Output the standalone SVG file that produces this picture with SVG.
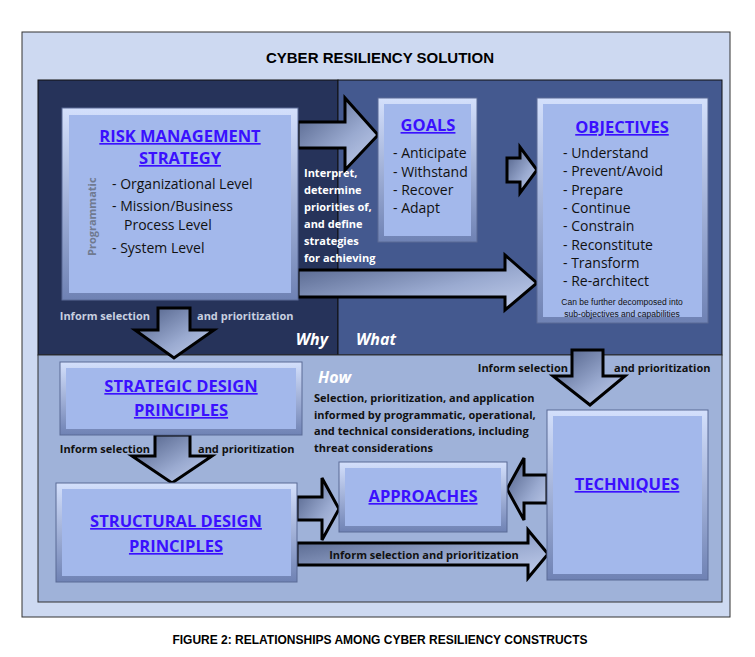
<svg xmlns="http://www.w3.org/2000/svg" width="755" height="657" viewBox="0 0 755 657">
<defs>
<linearGradient id="ag" x1="0" y1="0" x2="1" y2="1"><stop offset="0" stop-color="#4a5a82"/><stop offset="0.6" stop-color="#9aaad0"/><stop offset="1" stop-color="#c4d0ee"/></linearGradient>
<linearGradient id="bev" x1="0" y1="0" x2="0" y2="1"><stop offset="0" stop-color="#d4e0fc"/><stop offset="1" stop-color="#6f82b4"/></linearGradient>
</defs>
<style>
.box{fill:url(#bev);stroke:#5a6a96;stroke-width:1}
.inner{fill:#a3b8eb}
.arr{fill:url(#ag);stroke:#000;stroke-width:3;stroke-linejoin:miter}
.t{font-family:"Liberation Sans",Arial,sans-serif}
.h{font-family:"Open Sans","Liberation Sans",sans-serif;font-weight:bold;font-size:16.5px;fill:#3a10ff;text-decoration:underline;text-anchor:middle}
.li{font-family:"Open Sans","Liberation Sans",sans-serif;font-size:14px;fill:#111}
.lb{font-family:"Open Sans","Liberation Sans",sans-serif;font-weight:bold;font-size:11px}
.it{font-family:"Open Sans","Liberation Sans",sans-serif;font-weight:bold;font-style:italic;font-size:16px;fill:#fff}
</style>
<rect x="22" y="32" width="708" height="585" fill="#cdd9f1" stroke="#333" stroke-width="1"/>
<text x="380" y="63" text-anchor="middle" class="t" font-weight="bold" font-size="15">CYBER RESILIENCY SOLUTION</text>
<rect x="38" y="80" width="300" height="275" fill="#26335a" stroke="#111"/>
<rect x="338" y="80" width="384" height="275" fill="#44598f" stroke="#111"/>
<rect x="38" y="355" width="684" height="247" fill="#9fb2d9" stroke="#333"/>
<text x="328" y="345" text-anchor="end" class="it">Why</text>
<text x="356" y="345" class="it">What</text>
<text x="318" y="383" class="it">How</text>
<text x="150" y="320" text-anchor="end" class="lb" fill="#c8d0e0">Inform selection</text>
<text x="197" y="320" class="lb" fill="#c8d0e0">and prioritization</text>
<text class="lb" fill="#fff"><tspan x="304" y="177">Interpret,</tspan><tspan x="304" y="194">determine</tspan><tspan x="304" y="211">priorities of,</tspan><tspan x="304" y="228">and define</tspan><tspan x="304" y="245">strategies</tspan><tspan x="304" y="262">for achieving</tspan></text>
<text x="568" y="372" text-anchor="end" class="lb" fill="#111">Inform selection</text>
<text x="614" y="372" class="lb" fill="#111">and prioritization</text>
<text class="lb" fill="#111"><tspan x="314" y="402">Selection, prioritization, and application</tspan><tspan x="314" y="419">informed by programmatic, operational,</tspan><tspan x="314" y="435">and technical considerations, including</tspan><tspan x="314" y="452">threat considerations</tspan></text>
<text x="150" y="453" text-anchor="end" class="lb" fill="#111">Inform selection</text>
<text x="198" y="453" class="lb" fill="#111">and prioritization</text>
<g id="connectors">
<polygon class="arr" points="298,122 345,122 345,98 378,135 345,170 345,148 298,148"/>
<polygon class="arr" points="507,158 520,158 520,147 537,170 520,193 520,182 507,182"/>
<polygon class="arr" points="298,270 505,270 505,255 537,283 505,310 505,297 298,297"/>
<polygon class="arr" points="158,308 190,308 190,330 214,330 174,358 135,330 158,330"/>
<polygon class="arr" points="155,435 190,435 190,456 212,456 172,483 132,456 155,456"/>
<polygon class="arr" points="572,350 603,350 603,376 625,376 590,405 553,376 572,376"/>
<polygon class="arr" points="297,497 322,497 322,478 339,509 322,540 322,520 297,520"/>
<polygon class="arr" points="547,475 524,475 524,458 507,489 524,520 524,503 547,503"/>
<polygon class="arr" points="297,543 528,543 528,530 548,554 528,578 528,565 297,565"/>
</g>
<text x="424" y="559" text-anchor="middle" class="lb" fill="#111">Inform selection and prioritization</text>
<g id="rms">
<rect class="box" x="62" y="108" width="236" height="192"/><rect class="inner" x="69" y="115" width="222" height="178"/>
<text x="180" y="142" class="h">RISK MANAGEMENT</text><text x="180" y="164" class="h">STRATEGY</text>
<text transform="translate(96,256) rotate(-90)" class="lb" fill="#707a90" font-size="11">Programmatic</text>
<text class="li"><tspan x="112" y="189">-  Organizational Level</tspan><tspan x="112" y="211">-  Mission/Business</tspan><tspan x="124" y="230">Process Level</tspan><tspan x="112" y="253">-  System Level</tspan></text>
</g>
<g id="goals">
<rect class="box" x="378" y="98" width="99" height="144"/><rect class="inner" x="384" y="104" width="87" height="132"/>
<text x="428" y="131" class="h">GOALS</text>
<text class="li"><tspan x="393" y="158">-  Anticipate</tspan><tspan x="393" y="177">-  Withstand</tspan><tspan x="393" y="195">-  Recover</tspan><tspan x="393" y="213">-  Adapt</tspan></text>
</g>
<g id="objectives">
<rect class="box" x="537" y="98" width="171" height="225"/><rect class="inner" x="543" y="104" width="159" height="213"/>
<text x="622" y="133" class="h">OBJECTIVES</text>
<text class="li"><tspan x="563" y="158">-  Understand</tspan><tspan x="563" y="176">-  Prevent/Avoid</tspan><tspan x="563" y="195">-  Prepare</tspan><tspan x="563" y="213">-  Continue</tspan><tspan x="563" y="231">-  Constrain</tspan><tspan x="563" y="250">-  Reconstitute</tspan><tspan x="563" y="268">-  Transform</tspan><tspan x="563" y="286">-  Re-architect</tspan></text>
<text class="t" font-size="8.5" fill="#111" text-anchor="middle"><tspan x="622" y="305">Can be further decomposed into</tspan><tspan x="622" y="317">sub-objectives and capabilities</tspan></text>
</g>
<g id="strategic">
<rect class="box" x="60" y="362" width="242" height="73"/><rect class="inner" x="66" y="368" width="230" height="61"/>
<text x="181" y="392" class="h">STRATEGIC DESIGN</text><text x="181" y="416" class="h">PRINCIPLES</text>
</g>
<g id="structural">
<rect class="box" x="56" y="483" width="241" height="99"/><rect class="inner" x="62" y="489" width="229" height="87"/>
<text x="176" y="527" class="h">STRUCTURAL DESIGN</text><text x="176" y="552" class="h">PRINCIPLES</text>
</g>
<g id="approaches">
<rect class="box" x="339" y="462" width="168" height="70"/><rect class="inner" x="345" y="468" width="156" height="58"/>
<text x="423" y="502" class="h">APPROACHES</text>
</g>
<g id="techniques">
<rect class="box" x="547" y="410" width="161" height="170"/><rect class="inner" x="553" y="416" width="149" height="158"/>
<text x="627" y="490" class="h">TECHNIQUES</text>
</g>
<text x="380" y="644" text-anchor="middle" class="t" font-weight="bold" font-size="12">FIGURE 2:  RELATIONSHIPS AMONG CYBER RESILIENCY CONSTRUCTS</text>
</svg>
